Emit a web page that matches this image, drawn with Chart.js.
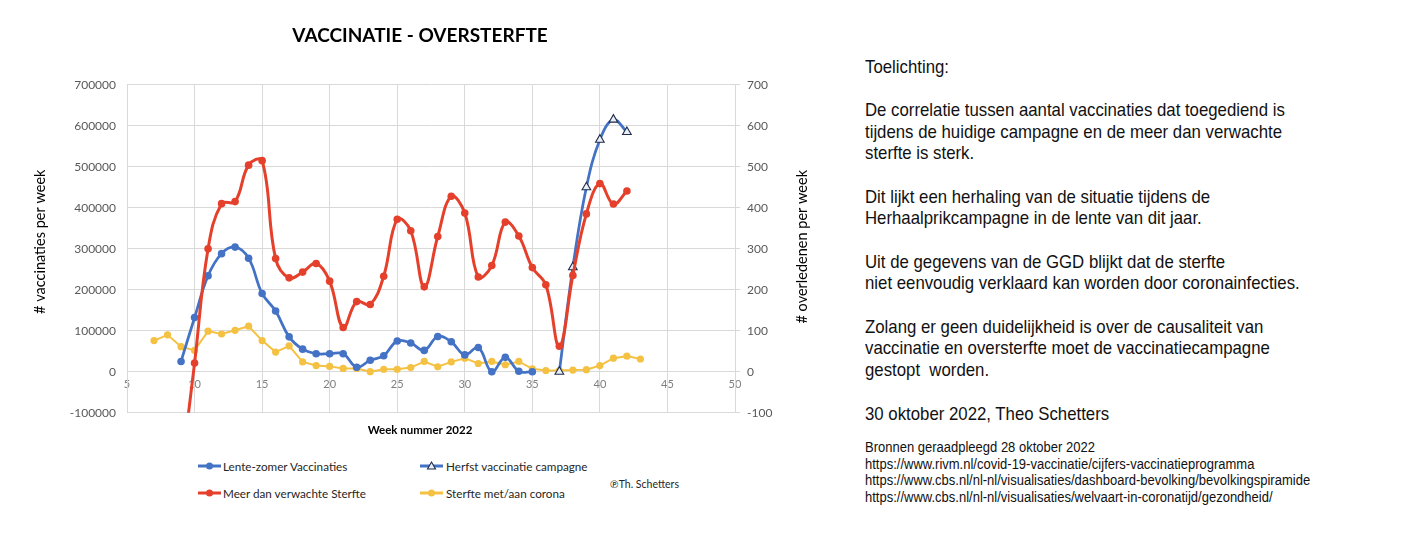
<!DOCTYPE html>
<html>
<head>
<meta charset="utf-8">
<script src="https://cdn.jsdelivr.net/npm/chart.js@4.4.1/dist/chart.umd.min.js"></script>
<style>
  body { margin: 0; background: #fff; width: 1417px; height: 538px; overflow: hidden; position: relative; }
  #wrap { position: absolute; left: 0; top: 0; width: 840px; height: 440px; }
  .leg { position: absolute; font-family: Lato, sans-serif; font-size: 11.7px; color: #262626; white-space: nowrap; display: flex; align-items: center; }
  .leg svg { margin-right: 1px; }
  #copy { position: absolute; left: 610px; top: 478px; font-family: Lato, sans-serif; font-size: 10.5px; color: #262626; }
  #note { position: absolute; left: 865px; top: 56px; font-family: "Liberation Sans", Arial, sans-serif; font-size: 16.8px; line-height: 19.35px; color: #111; white-space: pre; transform: scaleY(1.12); transform-origin: 0 0; }
  #src { position: absolute; left: 865px; top: 439px; font-family: "Liberation Sans", Arial, sans-serif; font-size: 13px; line-height: 15px; color: #111; white-space: pre; transform: scaleY(1.1); transform-origin: 0 0; }
</style>
</head>
<body>
<div id="wrap"><canvas id="chart"></canvas></div>

<div class="leg" style="left:198px; top:458px;">
  <svg width="24" height="16"><line x1="0" y1="8" x2="23" y2="8" stroke="#4472C4" stroke-width="3"/><circle cx="11.5" cy="8" r="3.5" fill="#4472C4"/></svg>Lente-zomer Vaccinaties
</div>
<div class="leg" style="left:420px; top:458px;">
  <svg width="25" height="16"><line x1="0" y1="8" x2="23" y2="8" stroke="#4472C4" stroke-width="3"/><path d="M11.5 4 L15.5 11 L7.5 11 Z" fill="#e9eef7" stroke="#1f2d4a" stroke-width="1.1"/></svg>Herfst vaccinatie campagne
</div>
<div class="leg" style="left:198px; top:485px;">
  <svg width="24" height="16"><line x1="0" y1="8" x2="23" y2="8" stroke="#E5402B" stroke-width="3"/><circle cx="11.5" cy="8" r="3.5" fill="#E5402B"/></svg>Meer dan verwachte Sterfte
</div>
<div class="leg" style="left:420px; top:485px;">
  <svg width="25" height="16"><line x1="0" y1="8" x2="23" y2="8" stroke="#F4C142" stroke-width="3"/><circle cx="11.5" cy="8" r="3.5" fill="#F4C142"/></svg>Sterfte met/aan corona
</div>
<div id="copy">&#8471;Th. Schetters</div>

<div id="note">Toelichting:

De correlatie tussen aantal vaccinaties dat toegediend is
tijdens de huidige campagne en de meer dan verwachte
sterfte is sterk.

Dit lijkt een herhaling van de situatie tijdens de
Herhaalprikcampagne in de lente van dit jaar.

Uit de gegevens van de GGD blijkt dat de sterfte
niet eenvoudig verklaard kan worden door coronainfecties.

Zolang er geen duidelijkheid is over de causaliteit van
vaccinatie en oversterfte moet de vaccinatiecampagne
gestopt  worden.

30 oktober 2022, Theo Schetters</div>

<div id="src">Bronnen geraadpleegd 28 oktober 2022
https://www.rivm.nl/covid-19-vaccinatie/cijfers-vaccinatieprogramma
https://www.cbs.nl/nl-nl/visualisaties/dashboard-bevolking/bevolkingspiramide
https://www.cbs.nl/nl-nl/visualisaties/welvaart-in-coronatijd/gezondheid/</div>

<script>
// week numbers and values
const lenteWeeks = [9, 10, 11, 12, 13, 14, 15, 16, 17, 18, 19, 20, 21, 22, 23, 24, 25, 26, 27, 28, 29, 30, 31, 32, 33, 34, 35];
const lenteVacc = [25000, 132000, 234000, 288000, 304000, 277000, 191000, 148000, 85000, 55000, 44000, 44000, 44000, 11000, 28000, 39000, 75000, 70000, 52000, 86000, 73000, 41000, 59000, 0, 35000, 1000, 0];

const herfstWeeks = [37, 38, 39, 40, 41, 42];
const herfstVacc = [0, 255000, 450000, 566000, 615000, 585000];

const sterfteWeeks = [9, 10, 11, 12, 13, 14, 15, 16, 17, 18, 19, 20, 21, 22, 23, 24, 25, 26, 27, 28, 29, 30, 31, 32, 33, 34, 35, 36, 37, 38, 39, 40, 41, 42];
const meerSterfte = [-250, 21, 300, 410, 415, 504, 515, 276, 229, 243, 264, 221, 108, 171, 164, 233, 372, 344, 207, 330, 428, 387, 231, 259, 365, 331, 254, 212, 62, 235, 385, 459, 409, 441];

const coronaWeeks = [7, 8, 9, 10, 11, 12, 13, 14, 15, 16, 17, 18, 19, 20, 21, 22, 23, 24, 25, 26, 27, 28, 29, 30, 31, 32, 33, 34, 35, 36, 37, 38, 39, 40, 41, 42, 43];
const coronaSterfte = [76, 90, 61, 52, 99, 92, 101, 111, 76, 48, 63, 24, 15, 13, 8, 8, 0, 6, 6, 10, 25, 12, 24, 33, 20, 25, 17, 25, 7, 3, 3, 4, 5, 15, 33, 38, 31];

const weekTicks = [5, 10, 15, 20, 25, 30, 35, 40, 45, 50];
const vaccTicks = [-100000, 0, 100000, 200000, 300000, 400000, 500000, 600000, 700000];
const doodTicks = [-100, 0, 100, 200, 300, 400, 500, 600, 700];

const toPoints = (xs, ys) => xs.map((x, i) => ({ x: x, y: ys[i] }));
const setTicks = arr => scale => { scale.ticks = arr.map(v => ({ value: v })); };

const gridGrey = "#d9d9d9";
const labelGrey = "#595959";

// both axis titles read bottom-to-top, like in Excel
function drawVertical(ctx, text, x, y) {
  ctx.save();
  ctx.translate(x, y);
  ctx.rotate(-Math.PI / 2);
  ctx.font = "14.5px Lato";
  ctx.fillStyle = "#000";
  ctx.textAlign = "center";
  ctx.textBaseline = "middle";
  ctx.fillText(text, 0, 0);
  ctx.restore();
}

const axisTitles = {
  id: "axisTitles",
  afterDraw(chart) {
    const l = chart.scales.y;
    const r = chart.scales.y1;
    const mid = (l.top + l.bottom) / 2;
    drawVertical(chart.ctx, "# vaccinaties per week", l.left + 40, mid - 7);
    drawVertical(chart.ctx, "# overledenen per week", r.right - 38, mid - 2);
  }
};

const ctx = document.getElementById("chart").getContext("2d");

new Chart(ctx, {
  type: "line",
  data: {
    datasets: [
      {
        label: "Meer dan verwachte Sterfte",
        data: toPoints(sterfteWeeks, meerSterfte),
        yAxisID: "y1",
        borderColor: "#E5402B",
        backgroundColor: "#E5402B",
        borderWidth: 3,
        pointRadius: 3.8,
        pointBorderWidth: 0,
        tension: 0.4,
        order: 1
      },
      {
        label: "Herfst vaccinatie campagne",
        data: toPoints(herfstWeeks, herfstVacc),
        yAxisID: "y",
        borderColor: "#4472C4",
        borderWidth: 2.75,
        pointStyle: "triangle",
        pointRadius: 5,
        pointBackgroundColor: "#e9eef7",
        pointBorderColor: "#1f2d4a",
        pointBorderWidth: 1.1,
        tension: 0.4,
        order: 2
      },
      {
        label: "Lente-zomer Vaccinaties",
        data: toPoints(lenteWeeks, lenteVacc),
        yAxisID: "y",
        borderColor: "#4472C4",
        backgroundColor: "#4472C4",
        borderWidth: 2.75,
        pointRadius: 3.8,
        pointBorderWidth: 0,
        tension: 0.4,
        order: 3
      },
      {
        label: "Sterfte met/aan corona",
        data: toPoints(coronaWeeks, coronaSterfte),
        yAxisID: "y1",
        borderColor: "#F4C142",
        backgroundColor: "#F4C142",
        borderWidth: 2,
        pointRadius: 3.6,
        pointBorderWidth: 0,
        tension: 0,
        order: 4
      }
    ]
  },
  options: {
    responsive: true,
    maintainAspectRatio: false,
    animation: false,
    layout: { padding: 0 },
    plugins: {
      legend: { display: false },
      tooltip: { enabled: false },
      title: {
        display: true,
        text: "VACCINATIE - OVERSTERFTE",
        color: "#000",
        font: { family: "Lato", size: 19, weight: "bold" },
        padding: { top: 24, bottom: 38 }
      },
      subtitle: {
        display: true,
        position: "bottom",
        text: "Week nummer 2022",
        color: "#000",
        font: { family: "Lato", size: 11.5, weight: "bold" },
        padding: { top: 11, bottom: 2.5 }
      }
    },
    scales: {
      x: {
        type: "linear",
        min: 5,
        max: 50,
        position: { y: 0 },
        afterBuildTicks: setTicks(weekTicks),
        grid: { color: gridGrey, drawTicks: false },
        border: { color: gridGrey },
        ticks: {
          color: "#7f7f7f",
          font: { family: "Lato", size: 11 },
          padding: 6,
          maxRotation: 0,
          callback: v => String(v)
        }
      },
      y: {
        position: "left",
        min: -100000,
        max: 700000,
        afterBuildTicks: setTicks(vaccTicks),
        afterFit: s => { s.width = 127; },
        grid: { color: gridGrey, drawTicks: false },
        border: { color: gridGrey },
        ticks: {
          color: labelGrey,
          font: { family: "Lato", size: 12 },
          padding: 11,
          callback: v => String(v)
        }
      },
      y1: {
        position: "right",
        min: -100,
        max: 700,
        afterBuildTicks: setTicks(doodTicks),
        afterFit: s => { s.width = 105; },
        grid: { color: gridGrey, drawOnChartArea: false, drawTicks: true, tickLength: 5 },
        border: { color: gridGrey },
        ticks: {
          color: labelGrey,
          font: { family: "Lato", size: 12 },
          padding: 7,
          callback: v => String(v)
        }
      }
    }
  },
  plugins: [axisTitles]
});
</script>
</body>
</html>
